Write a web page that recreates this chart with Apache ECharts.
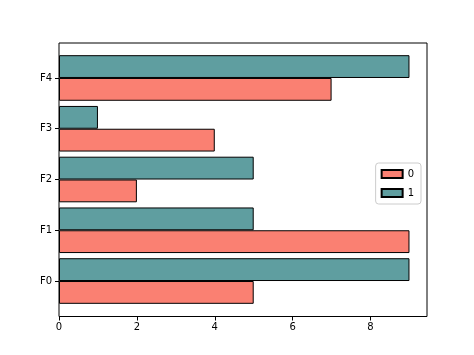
<!DOCTYPE html>
<html><head><meta charset="utf-8">
<script src="https://cdn.jsdelivr.net/npm/echarts@6/dist/echarts.min.js"></script>
<style>html,body{margin:0;padding:0;background:#fff}#c{width:474px;height:355px}</style>
</head><body><div id="c"></div>
<script>
const categories = ['F0','F1','F2','F3','F4'];
const series0 = [5, 9, 2, 4, 7];
const series1 = [9, 5, 5, 1, 9];
const seriesNames = ['0','1'];
const xTicks = [0, 2, 4, 6, 8];

const chart = echarts.init(document.getElementById('c'), null, {renderer:'canvas'});
const font = 'DejaVu Sans';
const xMax = 9.45;
chart.setOption({
  animation:false,
  backgroundColor:'#fff',
  textStyle:{fontFamily:font},
  grid:[
    {left:59, right:47, top:43, bottom:38.5, show:true, borderColor:'#000', borderWidth:1, backgroundColor:'transparent'},
    {left:59, right:47, top:52.6, bottom:48.6}
  ],
  xAxis:[
    {gridIndex:0, type:'value', min:0, max:xMax,
     axisLine:{show:false}, splitLine:{show:false},
     axisTick:{show:true, length:4, customValues:xTicks, lineStyle:{color:'#000'}},
     axisLabel:{color:'#000', fontSize:10, fontFamily:font, margin:6, customValues:xTicks}},
    {gridIndex:1, type:'value', min:0, max:xMax, show:false}
  ],
  yAxis:[
    {gridIndex:0, type:'value', min:0, max:1, show:false},
    {gridIndex:1, type:'category', data:categories,
     axisLine:{show:false}, splitLine:{show:false},
     axisTick:{show:true, alignWithLabel:true, length:4, lineStyle:{color:'#000'}},
     axisLabel:{color:'#000', fontSize:10, fontFamily:font, margin:7}}
  ],
  legend:{
    right:53, top:163, orient:'vertical', itemWidth:21, itemHeight:8, itemGap:9,
    padding:[6,7,6,5], borderColor:'#ccc', borderWidth:1, borderRadius:3,
    backgroundColor:'#fff',
    textStyle:{color:'#000', fontSize:10, fontFamily:font},
    data:seriesNames.map(n=>({name:n, icon:'rect'}))
  },
  series:[
    {name:seriesNames[1], type:'bar', xAxisIndex:1, yAxisIndex:1, data:series1,
     barWidth:22.8, barGap:'0%',
     itemStyle:{color:'#5F9EA0', borderColor:'#000', borderWidth:1}},
    {name:seriesNames[0], type:'bar', xAxisIndex:1, yAxisIndex:1, data:series0,
     barWidth:22.8, barGap:'0%',
     itemStyle:{color:'#FA8072', borderColor:'#000', borderWidth:1}}
  ]
});
</script></body></html>
